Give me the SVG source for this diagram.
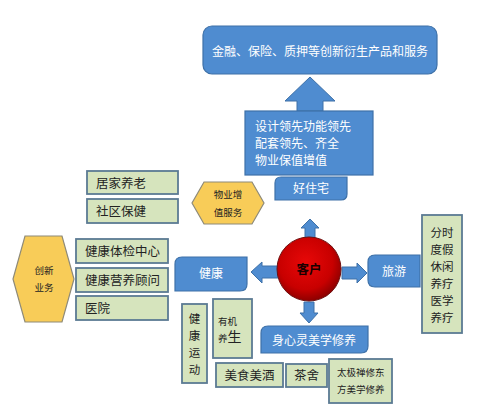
<svg xmlns="http://www.w3.org/2000/svg" width="500" height="420" viewBox="0 0 500 420">
<defs>
<radialGradient id="red" cx="0.45" cy="0.4" r="0.6">
<stop offset="0" stop-color="#E80808"/>
<stop offset="0.7" stop-color="#C80000"/>
<stop offset="1" stop-color="#8E0000"/>
</radialGradient>
<style>
.blue{fill:#4F8CD0;stroke:#3E71A8;stroke-width:1.2}
.arr{fill:#4F8CD0;stroke:#3E71A8;stroke-width:1}
.green{fill:#D6E4BD;stroke:#5B7A93;stroke-width:1.8}
.hex{fill:#F8CC58;stroke:#8E8A78;stroke-width:1.2}
text{font-family:"Noto Sans CJK SC","Noto Sans CJK JP",sans-serif}
.w{fill:#FFFFFF;font-size:12px}
.k{fill:#222222;font-size:12.5px}
.v{fill:#222222;font-size:11.5px}
.s{fill:#222222;font-size:9.5px}
</style>
</defs>
<rect width="500" height="420" fill="#FFFFFF"/>
<g id="connectors">
<path class="arr" d="M310,77 L335,101 L323,101 L323,111 L297,111 L297,101 L285,101 Z"/>
<path class="arr" d="M310,219 L319,228 L315,228 L315,238 L305,238 L305,228 L301,228 Z"/>
<path class="arr" d="M251,272 L262,262 L262,266 L278,266 L278,278 L262,278 L262,283 Z"/>
<path class="arr" d="M367,273 L357,263 L357,267 L342,267 L342,279 L357,279 L357,283 Z"/>
<path class="arr" d="M309,323 L318,313 L314,313 L314,302 L304,302 L304,313 L300,313 Z"/>
</g>
<g id="finance">
<rect class="blue" x="203" y="26" width="234" height="48" rx="9"/>
<text class="w" x="320" y="55.5" text-anchor="middle" font-size="11.5">金融、保险、质押等创新衍生产品和服务</text>
</g>
<g id="design">
<rect class="blue" x="245" y="111" width="128" height="64"/>
<text class="w" x="255" y="131">设计领先功能领先</text>
<text class="w" x="255" y="148">配套领先、齐全</text>
<text class="w" x="255" y="165">物业保值增值</text>
</g>
<g id="house">
<path class="blue" d="M281,177 L347,177 L347,194 Q347,200 341,200 L275,200 L275,183 Q275,177 281,177 Z"/>
<text class="w" x="311" y="193" text-anchor="middle">好住宅</text>
</g>
<g id="client">
<circle cx="309" cy="269" r="32" fill="url(#red)" stroke="#6E1010" stroke-width="1"/>
<text x="309" y="273.5" text-anchor="middle" font-size="12.5" font-weight="bold" fill="#1A0000">客户</text>
</g>
<g id="health">
<path class="blue" d="M182,257 L247,257 L247,284 Q247,291 240,291 L175,291 L175,264 Q175,257 182,257 Z"/>
<text class="w" x="211" y="278" text-anchor="middle">健康</text>
</g>
<g id="travel">
<path class="blue" d="M375,255 L420,255 L420,287 L375,287 Q368,287 368,280 L368,262 Q368,255 375,255 Z"/>
<text class="w" x="394" y="275.5" text-anchor="middle">旅游</text>
</g>
<g id="travel-items">
<rect class="green" x="422" y="215" width="40" height="118"/>
<text class="v" x="442" y="236.5" text-anchor="middle">分时</text>
<text class="v" x="442" y="253.5" text-anchor="middle">度假</text>
<text class="v" x="442" y="270.5" text-anchor="middle">休闲</text>
<text class="v" x="442" y="287.5" text-anchor="middle">养疗</text>
<text class="v" x="442" y="304.5" text-anchor="middle">医学</text>
<text class="v" x="442" y="321.5" text-anchor="middle">养疗</text>
</g>
<g id="mind">
<path class="blue" d="M268,326 L368,326 L368,346 Q368,353 361,353 L261,353 L261,333 Q261,326 268,326 Z"/>
<text class="w" x="314" y="344.5" text-anchor="middle">身心灵美学修养</text>
</g>
<g id="sport">
<rect class="green" x="182" y="304" width="25" height="79"/>
<text class="v" x="194.5" y="322.5" text-anchor="middle">健</text>
<text class="v" x="194.5" y="339.5" text-anchor="middle">康</text>
<text class="v" x="194.5" y="356.5" text-anchor="middle">运</text>
<text class="v" x="194.5" y="373.5" text-anchor="middle">动</text>
</g>
<g id="organic">
<rect class="green" x="213" y="299" width="39" height="59"/>
<text class="s" x="218" y="324.5">有机</text>
<text class="s" x="218" y="342"><tspan>养</tspan><tspan font-size="14">生</tspan></text>
</g>
<g id="food">
<rect class="green" x="216" y="363" width="67" height="24"/>
<text class="k" x="249.5" y="379.5" text-anchor="middle">美食美酒</text>
</g>
<g id="tea">
<rect class="green" x="286" y="364" width="41" height="23"/>
<text class="k" x="306.5" y="380" text-anchor="middle" font-size="13">茶舍</text>
</g>
<g id="taiji">
<rect class="green" x="329" y="359" width="63" height="44"/>
<text class="s" x="337" y="376">太极禅修东</text>
<text class="s" x="337" y="393">方美学修养</text>
</g>
<g id="property-service">
<path class="hex" d="M204,182 L252,182 L264,203 L252,224 L204,224 L192,203 Z"/>
<text class="s" x="228" y="198" text-anchor="middle">物业增</text>
<text class="s" x="228" y="215.5" text-anchor="middle">值服务</text>
</g>
<g id="home-care">
<rect class="green" x="87" y="171" width="91" height="23"/>
<text class="k" x="96" y="187.5">居家养老</text>
</g>
<g id="community">
<rect class="green" x="87" y="199" width="91" height="24"/>
<text class="k" x="96" y="216">社区保健</text>
</g>
<g id="innovation">
<path class="hex" d="M25,236 L62,236 L74,279 L62,322 L25,322 L13,279 Z"/>
<text class="s" x="44" y="273.5" text-anchor="middle">创新</text>
<text class="s" x="44" y="291" text-anchor="middle">业务</text>
</g>
<g id="checkup">
<rect class="green" x="76" y="239" width="92" height="24"/>
<text class="k" x="85" y="256">健康体检中心</text>
</g>
<g id="nutrition">
<rect class="green" x="76" y="268" width="92" height="24"/>
<text class="k" x="85" y="284.5">健康营养顾问</text>
</g>
<g id="hospital">
<rect class="green" x="76" y="296" width="92" height="24"/>
<text class="k" x="85" y="312.5">医院</text>
</g>
</svg>
